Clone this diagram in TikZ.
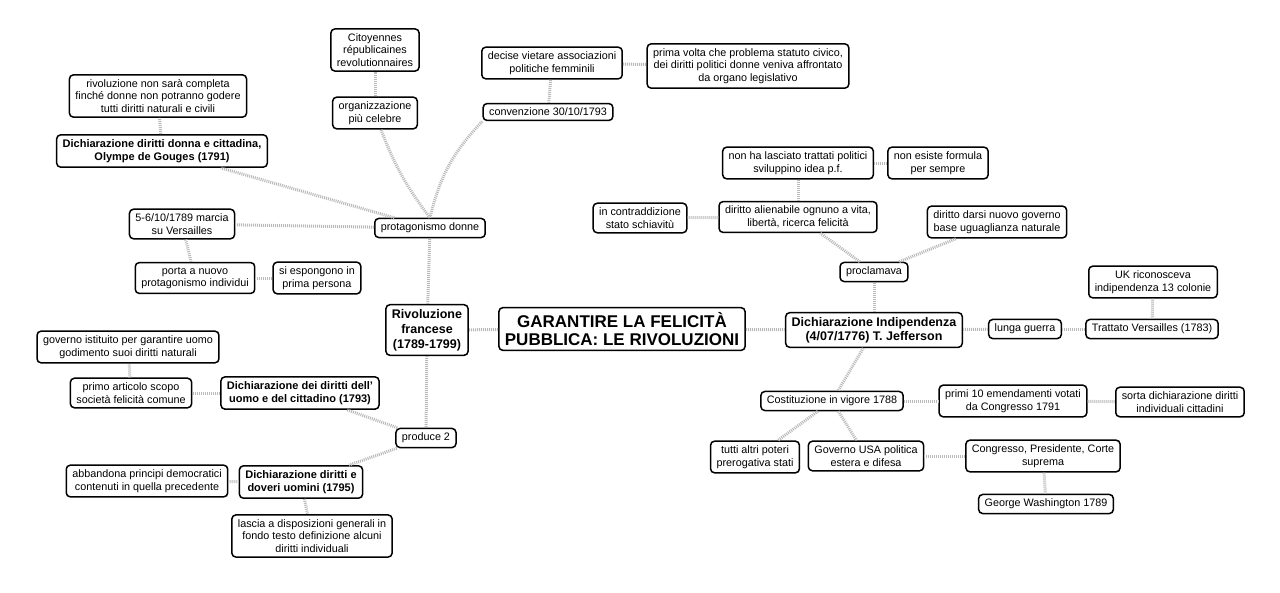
\documentclass[tikz,border=0pt]{standalone}
\usepackage{fontspec}
\setmainfont{Liberation Sans}
\begin{document}
\begin{tikzpicture}[x=1pt,y=-1pt,
  box/.style={draw=black,line width=1.5pt,rounded corners=4pt,fill=white,align=center,
    font=\fontsize{10.8}{12.6}\selectfont,inner xsep=6pt,inner ysep=4.5pt},
  bbox/.style={box,font=\fontsize{11}{13}\selectfont\bfseries},
  link/.style={draw=gray!55,line width=3pt,dash pattern=on 1pt off 1pt}]
\useasboundingbox (0,0) rectangle (1280,592);
% centro
\node[box,font=\fontsize{17}{17.5}\selectfont\bfseries,inner ysep=5pt] (root) at (622,329) {GARANTIRE LA FELICITÀ\\PUBBLICA: LE RIVOLUZIONI};
% rivoluzione francese
\node[bbox,font=\fontsize{12.5}{15}\selectfont\bfseries] (rivfr) at (427,330) {Rivoluzione\\francese\\(1789-1799)};
\node[box] (protdonne) at (430,228) {protagonismo donne};
\node[box] (orgcel) at (375,113) {organizzazione\\più celebre};
\node[box] (citoy) at (375,50) {Citoyennes\\républicaines\\revolutionnaires};
\node[box] (conv) at (548,112) {convenzione 30/10/1793};
\node[box] (decise) at (552,63) {decise vietare associazioni\\politiche femminili};
\node[box] (prima) at (748,66) {prima volta che problema statuto civico,\\dei diritti politici donne veniva affrontato\\da organo legislativo};
\node[bbox] (olympe) at (162,151) {Dichiarazione diritti donna e cittadina,\\Olympe de Gouges (1791)};
\node[box] (rivnon) at (158,96) {rivoluzione non sarà completa\\finché donne non potranno godere\\tutti diritti naturali e civili};
\node[box] (marcia) at (182,224) {5-6/10/1789 marcia\\su Versailles};
\node[box] (porta) at (195,278) {porta a nuovo\\protagonismo individui};
\node[box] (espong) at (317,278) {si espongono in\\prima persona};
\node[box] (produce) at (426,438) {produce 2};
\node[bbox] (dichuomo) at (300,393) {Dichiarazione dei diritti dell'\\uomo e del cittadino (1793)};
\node[box] (primoart) at (131,393) {primo articolo scopo\\società felicità comune};
\node[box] (governo) at (128,347) {governo istituito per garantire uomo\\godimento suoi diritti naturali};
\node[bbox] (doveri) at (301,482) {Dichiarazione diritti e\\doveri uomini (1795)};
\node[box] (abband) at (147,481) {abbandona principi democratici\\contenuti in quella precedente};
\node[box] (lascia) at (312,536) {lascia a disposizioni generali in\\fondo testo definizione alcuni\\diritti individuali};
% indipendenza americana
\node[bbox,font=\fontsize{12.5}{14}\selectfont\bfseries] (dichind) at (874,330) {Dichiarazione Indipendenza\\(4/07/1776) T. Jefferson};
\node[box] (procl) at (874,272) {proclamava};
\node[box] (diritto) at (798,217) {diritto alienabile ognuno a vita,\\libertà, ricerca felicità};
\node[box] (contrad) at (640,218) {in contraddizione\\stato schiavitù};
\node[box] (nonha) at (798,163) {non ha lasciato trattati politici\\sviluppino idea p.f.};
\node[box] (nonesiste) at (938,163) {non esiste formula\\per sempre};
\node[box] (nuovogov) at (997,222) {diritto darsi nuovo governo\\base uguaglianza naturale};
\node[box] (lunga) at (1025,329) {lunga guerra};
\node[box] (trattato) at (1152,329) {Trattato Versailles (1783)};
\node[box] (uk) at (1153,282) {UK riconosceva\\indipendenza 13 colonie};
\node[box] (cost) at (832,401) {Costituzione in vigore 1788};
\node[box] (emend) at (1013,401) {primi 10 emendamenti votati\\da Congresso 1791};
\node[box] (sorta) at (1180,402) {sorta dichiarazione diritti\\individuali cittadini};
\node[box] (poteri) at (755,457) {tutti altri poteri\\prerogativa stati};
\node[box] (govusa) at (866,456) {Governo USA politica\\estera e difesa};
\node[box] (congr) at (1043,456) {Congresso, Presidente, Corte\\suprema};
\node[box] (george) at (1046,504) {George Washington 1789};
% collegamenti
\draw[link] (root) -- (rivfr);
\draw[link] (root) -- (dichind);
\draw[link] (rivfr) -- (protdonne);
\draw[link] (protdonne.north) to[bend left=8] (orgcel);
\draw[link] (orgcel) -- (citoy);
\draw[link] (protdonne.north) to[bend left=15] (conv.south west);
\draw[link] (conv) -- (decise);
\draw[link] (decise) -- (prima);
\draw[link] (protdonne) -- (olympe);
\draw[link] (olympe) -- (rivnon);
\draw[link] (protdonne) -- (marcia);
\draw[link] (marcia) -- (porta);
\draw[link] (porta) -- (espong);
\draw[link] (rivfr) -- (produce);
\draw[link] (produce) -- (dichuomo);
\draw[link] (dichuomo) -- (primoart);
\draw[link] (primoart) -- (governo);
\draw[link] (produce) -- (doveri);
\draw[link] (doveri) -- (abband);
\draw[link] (doveri) -- (lascia);
\draw[link] (dichind) -- (procl);
\draw[link] (procl) -- (diritto);
\draw[link] (diritto) -- (contrad);
\draw[link] (diritto) -- (nonha);
\draw[link] (nonha) -- (nonesiste);
\draw[link] (procl) -- (nuovogov);
\draw[link] (dichind) -- (lunga);
\draw[link] (lunga) -- (trattato);
\draw[link] (trattato) -- (uk);
\draw[link] (dichind) -- (cost);
\draw[link] (cost) -- (emend);
\draw[link] (emend) -- (sorta);
\draw[link] (cost) -- (poteri);
\draw[link] (cost) -- (govusa);
\draw[link] (govusa) -- (congr);
\draw[link] (congr) -- (george);
\end{tikzpicture}
\end{document}
